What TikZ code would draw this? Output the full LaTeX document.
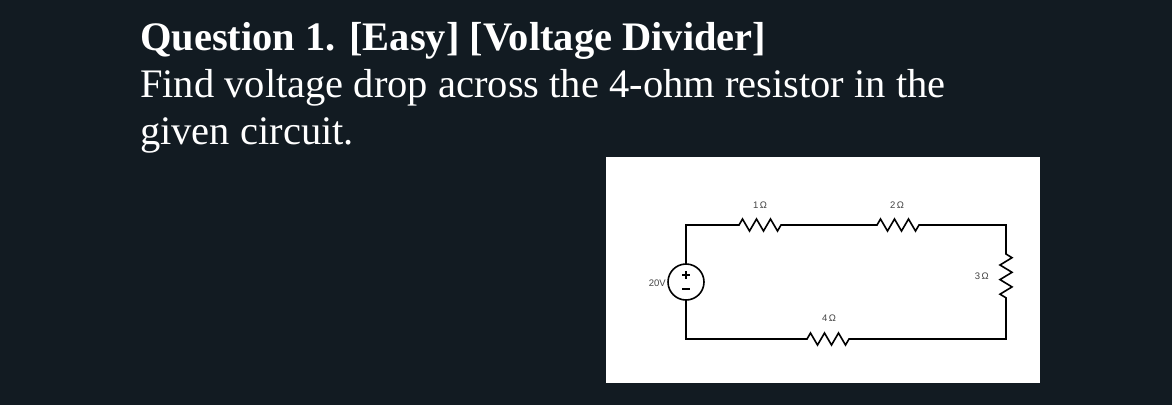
\documentclass[tikz,border=0pt]{standalone}
\usepackage{fontspec}
\setmainfont{Liberation Serif}
\newfontfamily\cfont{Liberation Sans}
\definecolor{bg}{HTML}{121B22}
\definecolor{lbl}{HTML}{444444}
\begin{document}
\begin{tikzpicture}[x=1pt,y=-1pt,
  wire/.style={line width=1.6pt,black,line join=miter},
  lab/.style={font=\cfont\fontsize{9.5}{10}\selectfont,text=lbl,inner sep=1pt},
  txt/.style={anchor=base west,text=white,inner sep=0pt,font=\fontsize{40.5}{46}\selectfont}]
\useasboundingbox (0,0) rectangle (1172,405);
\fill[bg] (0,0) rectangle (1172,405);
\fill[white] (606,157) rectangle (1040,383);
\node[txt,font=\bfseries\fontsize{40.5}{46}\selectfont] (t1) at (140,50) {Question 1. [Easy] [Voltage Divider]};
\node[txt] (t2) at (140,97) {Find voltage drop across the 4-ohm resistor in the};
\node[txt] (t3) at (140,144) {given circuit.};
% wires
\draw[wire] (686,264) -- (686,225) -- (739,225)
  -- ++(3.5,-6) -- ++(7,12) -- ++(7,-12) -- ++(7,12) -- ++(7,-12) -- ++(7,12) -- ++(3.5,-6)
  -- (877,225)
  -- ++(3.5,-6) -- ++(7,12) -- ++(7,-12) -- ++(7,12) -- ++(7,-12) -- ++(7,12) -- ++(3.5,-6)
  -- (1006,225) -- (1006,254)
  -- ++(6,3.7) -- ++(-12,7.3) -- ++(12,7.3) -- ++(-12,7.3) -- ++(12,7.3) -- ++(-12,7.3) -- ++(6,3.6)
  -- (1006,339) -- (849,339)
  -- ++(-3.5,6) -- ++(-7,-12) -- ++(-7,12) -- ++(-7,-12) -- ++(-7,12) -- ++(-7,-12) -- ++(-3.5,6)
  -- (686,339) -- (686,300);
\node[draw,circle,line width=1.6pt,minimum size=36pt,inner sep=0pt] (src) at (686,282) {};
\draw[line width=1.6pt] (682,275) -- (690,275) (686,271) -- (686,279) (682,289) -- (690,289);
\node[lab,anchor=east] (v) at (667,283) {20V};
\node[lab] (r1) at (760,205) {1\,Ω};
\node[lab] (r2) at (897,205) {2\,Ω};
\node[lab,anchor=east] (r3) at (990,276) {3\,Ω};
\node[lab] (r4) at (829,318) {4\,Ω};
\end{tikzpicture}
\end{document}
